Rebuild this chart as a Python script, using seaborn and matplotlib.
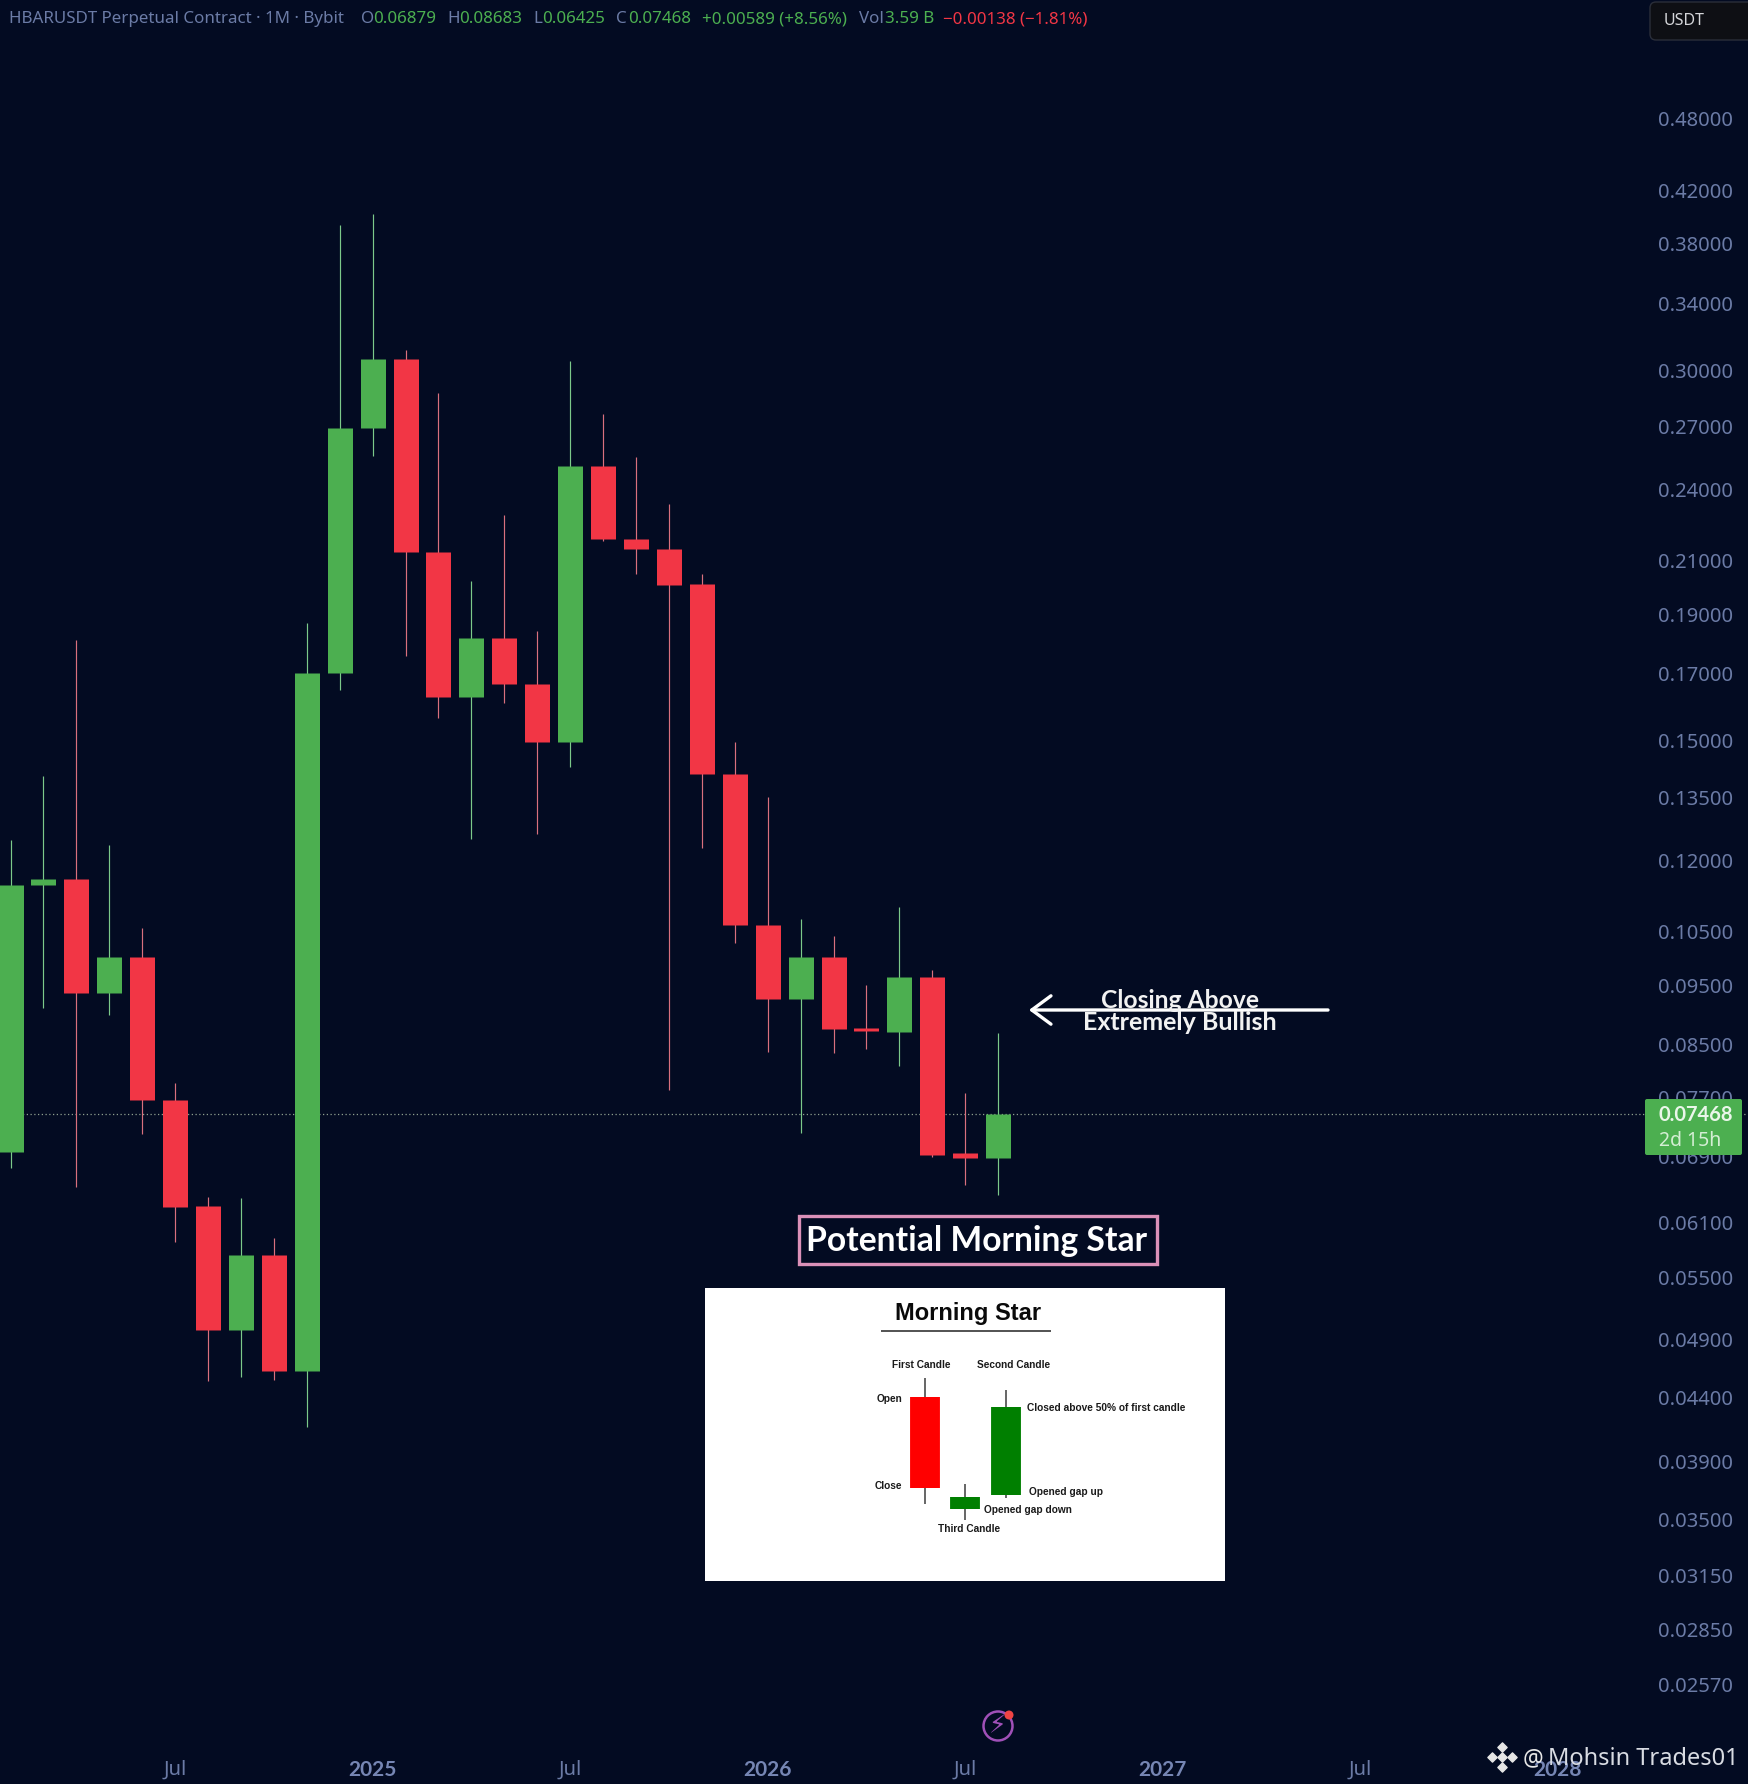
import pandas as pd
import numpy as np
import matplotlib.pyplot as plt
import seaborn as sns
from matplotlib.patches import Circle, FancyBboxPatch, Rectangle

# monthly candles, Feb 2024 -> Aug 2026
opens = [0.06953, 0.1146, 0.1159, 0.09363, 0.1002, 0.07668, 0.06290, 0.04988, 0.05741, 0.04621, 0.1703,
         0.2691, 0.3064, 0.2134, 0.1628, 0.1819, 0.1670, 0.1498, 0.2508, 0.2189, 0.2147, 0.2010, 0.1409,
         0.1064, 0.09263, 0.1002, 0.08768, 0.08712, 0.09646, 0.06938, 0.06879]
closes = [0.1146, 0.1159, 0.09363, 0.1002, 0.07668, 0.06277, 0.04988, 0.05741, 0.04621, 0.1703, 0.2691,
          0.3064, 0.2134, 0.1628, 0.1819, 0.1670, 0.1498, 0.2508, 0.2189, 0.2147, 0.2006, 0.1409, 0.1064,
          0.09263, 0.1002, 0.08749, 0.08730, 0.09646, 0.06923, 0.06879, 0.07468]
highs = [0.1246, 0.1406, 0.1811, 0.1235, 0.1057, 0.07916, 0.06399, 0.06385, 0.05927, 0.1870, 0.3938,
         0.4014, 0.3116, 0.2874, 0.2023, 0.2289, 0.1842, 0.3050, 0.2766, 0.2551, 0.2338, 0.2049, 0.1498,
         0.1350, 0.1075, 0.1041, 0.09503, 0.1099, 0.09769, 0.07766, 0.08683]
lows = [0.06749, 0.09107, 0.06522, 0.08992, 0.07193, 0.05877, 0.04533, 0.04572, 0.04543, 0.04164, 0.1649,
        0.2556, 0.1758, 0.1567, 0.1248, 0.1611, 0.1261, 0.1430, 0.2180, 0.2049, 0.07816, 0.1227, 0.1028,
        0.08384, 0.07209, 0.08367, 0.08438, 0.08173, 0.06894, 0.06537, 0.06425]

price_ticks = [0.48, 0.42, 0.38, 0.34, 0.30, 0.27, 0.24, 0.21, 0.19, 0.17, 0.15, 0.135, 0.12, 0.105, 0.095,
               0.085, 0.077, 0.069, 0.061, 0.055, 0.049, 0.044, 0.039, 0.035, 0.0315, 0.0285, 0.0257]
month_ticks = [5, 11, 17, 23, 29, 35, 41, 47]
month_labels = ["Jul", "2025", "Jul", "2026", "Jul", "2027", "Jul", "2028"]
last_price = 0.07468

# the small morning star sketch, price scale is arbitrary
star_opens = [5.51, 2.17, 2.59]
star_closes = [2.79, 2.53, 5.22]
star_highs = [6.07, 2.90, 5.72]
star_lows = [2.30, 1.82, 2.49]

bg = "#030B22"
green = "#4CAF50"
red = "#F23645"
tick_col = "#6B7BA6"
main_font = ["Noto Sans", "DejaVu Sans"]
bold_font = ["Lato", "DejaVu Sans"]

sns.set_theme(style="dark", rc={"axes.facecolor": bg, "figure.facecolor": bg})
plt.rcParams["font.family"] = main_font

W, H = 1749, 1784
fig = plt.figure(figsize=(W / 100, H / 100), dpi=100)
ax = fig.add_axes([0, 0, 1, 1])
ax.set_yscale("log")

idx = np.arange(len(opens))
candles = pd.DataFrame({"i": idx, "open": opens, "close": closes, "high": highs, "low": lows})
candles["dir"] = np.where(candles["close"] >= candles["open"], "up", "down")

ax.axhline(last_price, color="#8FA08F", lw=0.9, ls=(0, (1, 2)), zorder=0)

wicks = candles.melt(id_vars=["i", "dir"], value_vars=["low", "high"], value_name="price")
bodies = candles.melt(id_vars=["i", "dir"], value_vars=["open", "close"], value_name="price")
sns.lineplot(data=wicks, x="i", y="price", hue="dir", units="i", estimator=None, sort=False,
             palette={"up": "#7CC98A", "down": "#D9707E"}, lw=0.85, legend=False, ax=ax,
             solid_capstyle="butt", zorder=2)
sns.lineplot(data=bodies, x="i", y="price", hue="dir", units="i", estimator=None, sort=False,
             palette={"up": green, "down": red}, lw=18, legend=False, ax=ax,
             solid_capstyle="butt", zorder=3)

ax.set_xlim(-0.32, 52.81)
ax.set_ylim(0.02135, 0.5992)
ax.set_xlabel("")
ax.set_ylabel("")
for s in ax.spines.values():
    s.set_visible(False)

ax.yaxis.tick_right()
ax.set_yticks(price_ticks)
ax.set_yticklabels([f"{p:.5f}" for p in price_ticks])
ax.minorticks_off()
ax.tick_params(axis="y", which="both", length=0, pad=-11.5, labelsize=14.5, labelcolor=tick_col)
for lab in ax.get_yticklabels():
    lab.set_ha("right")

ax.set_xticks(month_ticks)
ax.set_xticklabels(month_labels)
ax.tick_params(axis="x", length=0, pad=-3, labelsize=14.5, labelcolor=tick_col)
for lab in ax.get_xticklabels():
    lab.set_va("bottom")
    if lab.get_text() != "Jul":
        lab.set_family(bold_font)
        lab.set_fontweight("bold")
        lab.set_fontsize(15)
        lab.set_color("#7686B4")

# sketch pasted on the chart
ins = fig.add_axes([705 / W, 1 - 1581 / H, 520 / W, 293 / H], facecolor="white", zorder=3)
star = pd.DataFrame({"i": [1, 2, 3], "open": star_opens, "close": star_closes,
                     "high": star_highs, "low": star_lows,
                     "dir": ["down", "up", "up"]})
star_w = star.melt(id_vars=["i", "dir"], value_vars=["low", "high"], value_name="v")
star_b = star.melt(id_vars=["i", "dir"], value_vars=["open", "close"], value_name="v")
sns.lineplot(data=star_w, x="i", y="v", units="i", estimator=None, sort=False, color="#3C3C3C",
             lw=1.1, legend=False, ax=ins, solid_capstyle="butt")
sns.lineplot(data=star_b, x="i", y="v", hue="dir", units="i", estimator=None, sort=False,
             palette={"up": "#007F00", "down": "#FF0000"}, lw=21.5, legend=False, ax=ins,
             solid_capstyle="butt", zorder=3)
ins.set_xlim(-4.45, 8.43)
ins.set_ylim(0, 8.78)
ins.axis("off")
ins.add_patch(Rectangle((0, 0), 1, 1, transform=ins.transAxes, color="white", zorder=0))


def sketch_text(zx, zy, txt, **kw):
    ins.text((zx - 42) / 1456, (1142 - zy) / 878, txt, transform=ins.transAxes, color="#1A1A1A",
             family=["Liberation Sans"], fontweight="bold", va="center", fontsize=7.3, **kw)


sketch_text(567, 496, "First Candle", ha="left")
sketch_text(803, 496, "Second Candle", ha="left")
sketch_text(594, 596, "Open", ha="right")
sketch_text(594, 856, "Close", ha="right")
sketch_text(944, 624, "Closed above 50% of first candle", ha="left")
sketch_text(948, 874, "Opened gap up", ha="left")
sketch_text(822, 928, "Opened gap down", ha="left")
sketch_text(695, 985, "Third Candle", ha="left")
ins.text((779 - 42) / 1456, (1142 - 340) / 878, "Morning Star", transform=ins.transAxes, color="#0A0A0A",
         family=["Liberation Sans"], fontsize=17, ha="center", va="center", fontweight="bold")
ins.plot([(535 - 42) / 1456, (1012 - 42) / 1456], [(1142 - 393) / 878] * 2, transform=ins.transAxes,
         color="#444444", lw=1.3, solid_capstyle="butt")

# overlay in pixels for the notes and the TradingView furniture
ov = fig.add_axes([0, 0, 1, 1], zorder=5)
ov.set_xlim(0, W)
ov.set_ylim(H, 0)
ov.axis("off")

header = [(9, "HBARUSDT Perpetual Contract · 1M · Bybit", tick_col), (361, "O", tick_col), (373, "0.06879", green),
          (447, "H", tick_col), (459, "0.08683", green), (533, "L", tick_col), (542, "0.06425", green),
          (616, "C", tick_col), (628, "0.07468", green), (702, "+0.00589 (+8.56%)", green),
          (859, "Vol", tick_col), (885, "3.59 B", green), (943, "−0.00138 (−1.81%)", red)]
for x, txt, col in header:
    ov.text(x, 19, txt, color=col, fontsize=12.2, va="center", ha="left")

ov.add_patch(FancyBboxPatch((1650, 2), 112, 38, boxstyle="round,pad=0,rounding_size=6",
                            fc="#0E0F14", ec="#2A2E39", lw=1, clip_on=True))
ov.text(1664, 21, "USDT", color="#D5D6DA", fontsize=11.5, va="center", ha="left")

ov.add_patch(FancyBboxPatch((1645, 1099), 97, 56, boxstyle="round,pad=0,rounding_size=2", fc=green, ec="none"))
ov.text(1659, 1115, "0.07468", color="#EAF6EA", fontsize=14.5, family=bold_font, fontweight="bold",
        va="center", ha="left")
ov.text(1659, 1141, "2d 15h", color="#D4EED4", fontsize=14, va="center", ha="left")

# note on the right of the last candle
ov.annotate("", xy=(1029, 1010), xytext=(1328, 1010),
            arrowprops=dict(arrowstyle="->,head_length=1.15,head_width=0.85", color="white", lw=2.4,
                            shrinkA=0, shrinkB=0))
ov.text(1180, 1000, "Closing Above", color="#F2F2F2", fontsize=17.7, family=bold_font, fontweight="bold",
        ha="center", va="center")
ov.text(1180, 1023, "Extremely Bullish", color="#F2F2F2", fontsize=18, family=bold_font, fontweight="bold",
        ha="center", va="center")

ov.add_patch(Rectangle((799, 1216), 358, 48, fc=bg, ec="#DB90B8", lw=2.4))
ov.text(977, 1241, "Potential Morning Star", color="white", fontsize=24.2, family=bold_font, fontweight="bold",
        ha="center", va="center")

# bolt icon and watermark
ov.add_patch(Circle((998, 1726), 14.5, fc="none", ec="#A050B8", lw=1.8))
ov.text(998, 1726, "⚡", color="#A050B8", fontsize=18, ha="center", va="center", family=["DejaVu Sans"])
ov.add_patch(Circle((1009, 1715), 4.5, fc="#EF4444", ec="none"))
ov.scatter([1502, 1492, 1512, 1502, 1502], [1757, 1757, 1757, 1747, 1767], marker="D", s=22, c="#E6E6E6")
ov.text(1523, 1759, "@", color="#E6E6E6", fontsize=16.5, ha="left", va="center")
ov.text(1548, 1759, "Mohsin Trades01", color="#D8DBE2", fontsize=17, ha="left", va="center")

fig.savefig("out.png", dpi=100, facecolor=bg)
